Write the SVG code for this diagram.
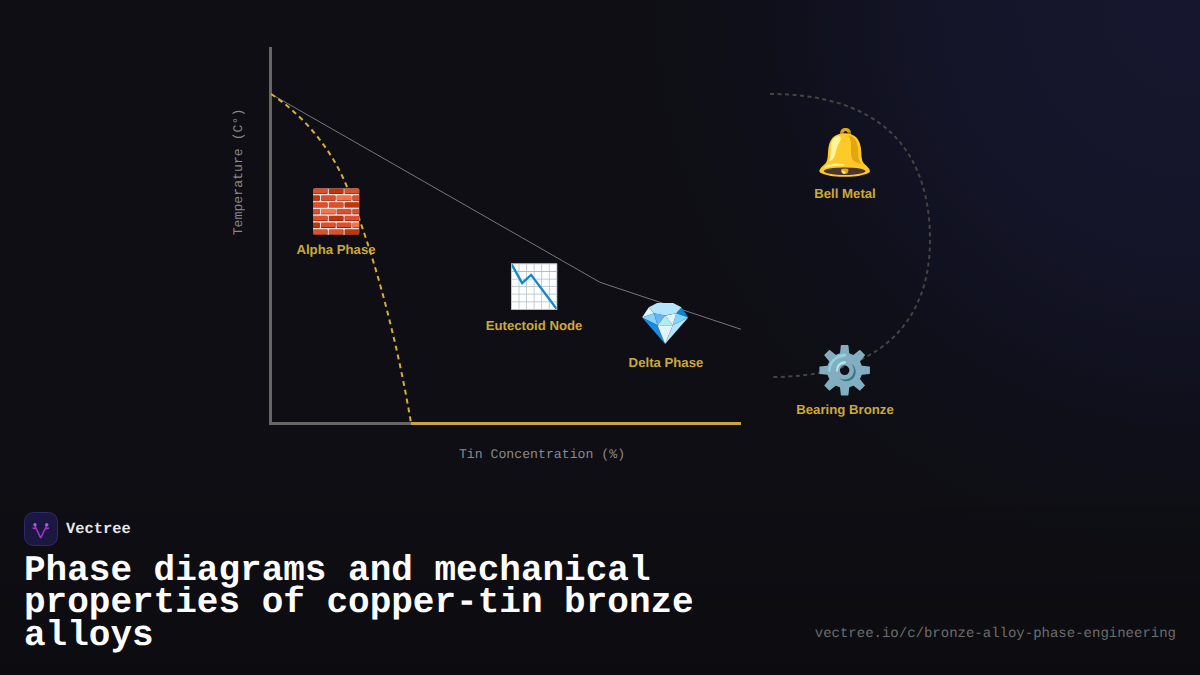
<svg xmlns="http://www.w3.org/2000/svg" width="1200" height="675" viewBox="0 0 1200 675">
<style>
text{text-rendering:geometricPrecision}
.lbl{font:700 13.2px "Liberation Sans",Arial,sans-serif;fill:#d4af37;text-anchor:middle;opacity:.97}
.emo{font-family:"Noto Color Emoji",sans-serif;text-anchor:middle}
.s42{font-size:42px}
.s46{font-size:46px}
.ax{font:13.2px "Liberation Mono",monospace;fill:#8c8c8c;text-anchor:middle;opacity:.99}
.title{font:700 36px "Liberation Mono",monospace;fill:#fff;opacity:.995}
</style>
<defs>
<radialGradient id="g" gradientUnits="userSpaceOnUse" cx="1200" cy="0" r="610">
<stop offset="0" stop-color="#16172f"/><stop offset="0.42" stop-color="#15162c" stop-opacity=".85"/><stop offset="0.72" stop-color="#12132a" stop-opacity=".28"/><stop offset="1" stop-color="#0e0e14" stop-opacity="0"/>
</radialGradient>
<linearGradient id="b" x1="0" y1="0" x2="0" y2="1"><stop offset="0" stop-color="#000" stop-opacity="0"/><stop offset="1" stop-color="#000" stop-opacity=".2"/></linearGradient>
</defs>
<rect width="1200" height="675" fill="#0e0e14"/>
<rect width="1200" height="675" fill="url(#g)"/>
<rect y="470" width="1200" height="205" fill="url(#b)"/>
<g id="connectors" fill="none">
<path d="M270.500 47V423.500H411" stroke="#666" stroke-width="3"/>
<path d="M411 423.500H741" stroke="#c9a53f" stroke-width="3"/>
<path d="M271 94L600 282.300L741 329.300" stroke="#777" stroke-width="1"/>
<path d="M271 94C300 113 330 145 347 187C375 255 398 345 411 423" stroke="#d4af37" stroke-width="2" stroke-dasharray="5 4"/>
<path d="M770 94C870 94 930 140 930 240C930 330 870 377 773 377" stroke="#444" stroke-width="2" stroke-dasharray="4 3.500"/>
</g>
<text class="ax" transform="translate(242 172) rotate(-90)">Temperature (C°)</text>
<text class="ax" x="542" y="458">Tin Concentration (%)</text>
<g id="alpha"><text class="emo s42" x="336.500" y="225.500">🧱</text><text class="lbl" x="336" y="254">Alpha Phase</text></g>
<g id="eutectoid"><text class="emo s42" x="535" y="300.800">📉</text><text class="lbl" x="534" y="330">Eutectoid Node</text></g>
<g id="delta"><text class="emo s42" x="666" y="338.400">💎</text><text class="lbl" x="666" y="367">Delta Phase</text></g>
<g id="bell"><text class="emo s46" x="845" y="168">🔔</text><text class="lbl" x="845" y="198">Bell Metal</text></g>
<g id="bearing"><text class="emo s46" x="845" y="385.500">⚙️</text><text class="lbl" x="845" y="414">Bearing Bronze</text></g>
<g id="brand">
<rect x="24.500" y="512.500" width="33" height="33" rx="9" fill="#1a1840" stroke="#2e2a6e"/>
<path d="M40.700 538L35 526M40.700 538L46.500 526M32.500 528L37 529M49 528L45 529" stroke="#a035c8" stroke-width="1.600" fill="none"/>
<circle cx="35" cy="524.700" r="1.700" fill="#c050e0"/><circle cx="46.700" cy="524.700" r="1.700" fill="#c050e0"/>
<text x="66" y="533.300" font-family="'Liberation Mono',monospace" font-weight="700" font-size="15.400" fill="#e8e8e8" opacity=".995">Vectree</text>
</g>
<g id="title">
<text class="title" x="24" y="580">Phase diagrams and mechanical</text>
<text class="title" x="24" y="612.400">properties of copper-tin bronze</text>
<text class="title" x="24" y="644.800">alloys</text>
</g>
<text x="1176" y="637" text-anchor="end" font-family="'Liberation Mono',monospace" font-size="14" fill="#6e6e6e" opacity=".995">vectree.io/c/bronze-alloy-phase-engineering</text>
</svg>
